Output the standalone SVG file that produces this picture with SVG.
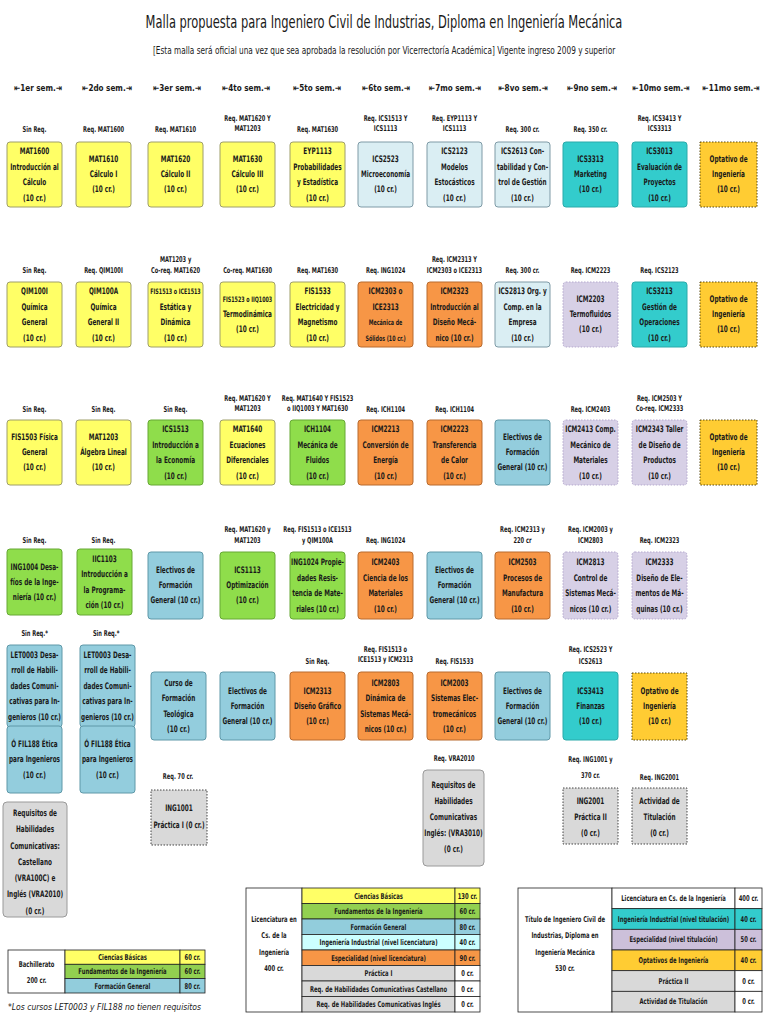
<svg xmlns="http://www.w3.org/2000/svg" width="768" height="1024" viewBox="0 0 768 1024">
<style>
text{font-family:"DejaVu Sans Condensed","Liberation Sans Narrow","Liberation Sans",sans-serif;fill:#1a1a1a}
.r,.t,.c,.ti,.st,.sem{text-anchor:middle;transform-box:fill-box;transform-origin:center}
.ti{font-size:17px;transform:scaleX(0.75)}
.st{font-size:10px;transform:scaleX(0.82)}
.r{font-size:8px;font-weight:bold;transform:scaleX(0.71)}
.t{font-size:9px;font-weight:bold;transform:scaleX(0.71)}
.c{font-size:8px;font-weight:bold;transform:scaleX(0.73)}
.ts{font-size:7.5px}
.sem{font-size:9.5px;font-weight:bold;transform:scaleX(0.85)}
rect{stroke-width:1}
.y{fill:#FFFF66;stroke:#9E9E6A}
.lb{fill:#DAEEF3;stroke:#7E9AA6}
.tq{fill:#33CCCC;stroke:#2AAAAA}
.o{fill:#F79646;stroke:#B86A2E}
.g{fill:#8FDD4B;stroke:#66A834}
.bl{fill:#93CDDD;stroke:#5E98A8}
.lv{fill:#D7D0E6;stroke:#B5A9CE;stroke-dasharray:1.5 1.5}
.op{fill:#FFCC33;stroke:#5A4A10;stroke-dasharray:1.5 1.5}
.gr{fill:#D9D9D9;stroke:#9A9A9A}
.pr{fill:#D9D9D9;stroke:#444;stroke-dasharray:1.5 1.5}
.cell{stroke:#222;stroke-width:0.8}
.w{fill:#FFFFFF}
.cY{fill:#FFFF66}.cG{fill:#92D050}.cB{fill:#92CDDC}.cC{fill:#CCFFFF}.cO{fill:#F79646}.cR{fill:#D9D9D9}.cT{fill:#33CCCC}.cL{fill:#CCC0DA}.cP{fill:#FFCC33}
</style>
<rect width="768" height="1024" fill="#FFFFFF"/>
<g id="header">
<text class="ti" x="384" y="28">Malla propuesta para Ingeniero Civil de Industrias, Diploma en Ingeniería Mecánica</text>
<text class="st" x="384" y="54">[Esta malla será oficial una vez que sea aprobada la resolución por Vicerrectoría Académica] Vigente ingreso 2009 y superior</text>
<text class="sem" x="38" y="91">⇤1er sem.⇥</text>
<text class="sem" x="107" y="91">⇤2do sem.⇥</text>
<text class="sem" x="177" y="91">⇤3er sem.⇥</text>
<text class="sem" x="246" y="91">⇤4to sem.⇥</text>
<text class="sem" x="317" y="91">⇤5to sem.⇥</text>
<text class="sem" x="386" y="91">⇤6to sem.⇥</text>
<text class="sem" x="455" y="91">⇤7mo sem.⇥</text>
<text class="sem" x="523" y="91">⇤8vo sem.⇥</text>
<text class="sem" x="592" y="91">⇤9no sem.⇥</text>
<text class="sem" x="661" y="91">⇤10mo sem.⇥</text>
<text class="sem" x="731" y="91">⇤11mo sem.⇥</text>
</g>
<g id="connectors"></g>

<!-- Row 1 -->
<g id="MAT1600"><text class="r" x="34.5" y="132">Sin Req.</text><rect class="y" x="7" y="142" width="55" height="65" rx="3"/><text class="t" x="34.5" y="154.3">MAT1600<tspan x="34.5" dy="15.5">Introducción al</tspan><tspan x="34.5" dy="15.5">Cálculo</tspan><tspan x="34.5" dy="15.5">(10 cr.)</tspan></text></g>
<g id="MAT1610"><text class="r" x="103.5" y="132">Req. MAT1600</text><rect class="y" x="76" y="142" width="55" height="65" rx="3"/><text class="t" x="103.5" y="162.5">MAT1610<tspan x="103.5" dy="15">Cálculo I</tspan><tspan x="103.5" dy="15">(10 cr.)</tspan></text></g>
<g id="MAT1620"><text class="r" x="175.5" y="132">Req. MAT1610</text><rect class="y" x="148" y="142" width="55" height="65" rx="3"/><text class="t" x="175.5" y="162.5">MAT1620<tspan x="175.5" dy="15">Cálculo II</tspan><tspan x="175.5" dy="15">(10 cr.)</tspan></text></g>
<g id="MAT1630"><text class="r" x="247.5" y="121">Req. MAT1620 Y<tspan x="247.5" dy="10">MAT1203</tspan></text><rect class="y" x="220" y="142" width="55" height="65" rx="3"/><text class="t" x="247.5" y="162.5">MAT1630<tspan x="247.5" dy="15">Cálculo III</tspan><tspan x="247.5" dy="15">(10 cr.)</tspan></text></g>
<g id="EYP1113"><text class="r" x="317.5" y="132">Req. MAT1630</text><rect class="y" x="290" y="142" width="55" height="65" rx="3"/><text class="t" x="317.5" y="154.3">EYP1113<tspan x="317.5" dy="15.5">Probabilidades</tspan><tspan x="317.5" dy="15.5">y Estadística</tspan><tspan x="317.5" dy="15.5">(10 cr.)</tspan></text></g>
<g id="ICS2523"><text class="r" x="385.5" y="121">Req. ICS1513 Y<tspan x="385.5" dy="10">ICS1113</tspan></text><rect class="lb" x="358" y="142" width="55" height="65" rx="3"/><text class="t" x="385.5" y="162.5">ICS2523<tspan x="385.5" dy="15">Microeconomía</tspan><tspan x="385.5" dy="15">(10 cr.)</tspan></text></g>
<g id="ICS2123"><text class="r" x="454.5" y="121">Req. EYP1113 Y<tspan x="454.5" dy="10">ICS1113</tspan></text><rect class="lb" x="427" y="142" width="55" height="65" rx="3"/><text class="t" x="454.5" y="154.3">ICS2123<tspan x="454.5" dy="15.5">Modelos</tspan><tspan x="454.5" dy="15.5">Estocásticos</tspan><tspan x="454.5" dy="15.5">(10 cr.)</tspan></text></g>
<g id="ICS2613"><text class="r" x="522.5" y="132">Req. 300 cr.</text><rect class="lb" x="495" y="142" width="55" height="65" rx="3"/><text class="t" x="522.5" y="154.3">ICS2613 Con-<tspan x="522.5" dy="15.5">tabilidad y Con-</tspan><tspan x="522.5" dy="15.5">trol de Gestión</tspan><tspan x="522.5" dy="15.5">(10 cr.)</tspan></text></g>
<g id="ICS3313"><text class="r" x="590.5" y="132">Req. 350 cr.</text><rect class="tq" x="563" y="142" width="55" height="65" rx="3"/><text class="t" x="590.5" y="162.5">ICS3313<tspan x="590.5" dy="15">Marketing</tspan><tspan x="590.5" dy="15">(10 cr.)</tspan></text></g>
<g id="ICS3013"><text class="r" x="659.5" y="121">Req. ICS3413 Y<tspan x="659.5" dy="10">ICS3313</tspan></text><rect class="tq" x="632" y="142" width="55" height="65" rx="3"/><text class="t" x="659.5" y="154.3">ICS3013<tspan x="659.5" dy="15.5">Evaluación de</tspan><tspan x="659.5" dy="15.5">Proyectos</tspan><tspan x="659.5" dy="15.5">(10 cr.)</tspan></text></g>
<g id="OPT1"><rect class="op" x="700" y="142" width="57" height="65"/><text class="t" x="728.5" y="162.5">Optativo de<tspan x="728.5" dy="15">Ingeniería</tspan><tspan x="728.5" dy="15">(10 cr.)</tspan></text></g>

<!-- Row 2 -->
<g id="QIM100I"><text class="r" x="34.5" y="273">Sin Req.</text><rect class="y" x="7" y="282" width="55" height="65" rx="3"/><text class="t" x="34.5" y="294.3">QIM100I<tspan x="34.5" dy="15.5">Química</tspan><tspan x="34.5" dy="15.5">General</tspan><tspan x="34.5" dy="15.5">(10 cr.)</tspan></text></g>
<g id="QIM100A"><text class="r" x="103.5" y="273">Req. QIM100I</text><rect class="y" x="76" y="282" width="55" height="65" rx="3"/><text class="t" x="103.5" y="294.3">QIM100A<tspan x="103.5" dy="15.5">Química</tspan><tspan x="103.5" dy="15.5">General II</tspan><tspan x="103.5" dy="15.5">(10 cr.)</tspan></text></g>
<g id="FIS1513"><text class="r" x="175.5" y="262">MAT1203 y<tspan x="175.5" dy="11">Co-req. MAT1620</tspan></text><rect class="y" x="148" y="282" width="55" height="65" rx="3"/><text class="t" x="175.5" y="294.3"><tspan class="ts">FIS1513 o ICE1513</tspan><tspan x="175.5" dy="15.5">Estática y</tspan><tspan x="175.5" dy="15.5">Dinámica</tspan><tspan x="175.5" dy="15.5">(10 cr.)</tspan></text></g>
<g id="FIS1523"><text class="r" x="247.5" y="273">Co-req. MAT1630</text><rect class="y" x="220" y="282" width="55" height="65" rx="3"/><text class="t" x="247.5" y="302.5"><tspan class="ts">FIS1523 o IIQ1003</tspan><tspan x="247.5" dy="15">Termodinámica</tspan><tspan x="247.5" dy="15">(10 cr.)</tspan></text></g>
<g id="FIS1533"><text class="r" x="317.5" y="273">Req. MAT1630</text><rect class="y" x="290" y="282" width="55" height="65" rx="3"/><text class="t" x="317.5" y="294.3">FIS1533<tspan x="317.5" dy="15.5">Electricidad y</tspan><tspan x="317.5" dy="15.5">Magnetismo</tspan><tspan x="317.5" dy="15.5">(10 cr.)</tspan></text></g>
<g id="ICM2303"><text class="r" x="385.5" y="273">Req. ING1024</text><rect class="o" x="358" y="282" width="55" height="65" rx="3"/><text class="t" x="385.5" y="294.3">ICM2303 o<tspan x="385.5" dy="15.5">ICE2313</tspan><tspan class="ts" x="385.5" dy="15.5">Mecánica de</tspan><tspan class="ts" x="385.5" dy="15.5">Sólidos (10 cr.)</tspan></text></g>
<g id="ICM2323"><text class="r" x="454.5" y="262">Req. ICM2313 Y<tspan x="454.5" dy="11">ICM2303 o ICE2313</tspan></text><rect class="o" x="427" y="282" width="55" height="65" rx="3"/><text class="t" x="454.5" y="294.3">ICM2323<tspan x="454.5" dy="15.5">Introducción al</tspan><tspan x="454.5" dy="15.5">Diseño Mecá-</tspan><tspan x="454.5" dy="15.5">nico (10 cr.)</tspan></text></g>
<g id="ICS2813"><text class="r" x="522.5" y="273">Req. 300 cr.</text><rect class="lb" x="495" y="282" width="55" height="65" rx="3"/><text class="t" x="522.5" y="294.3">ICS2813 Org. y<tspan x="522.5" dy="15.5">Comp. en la</tspan><tspan x="522.5" dy="15.5">Empresa</tspan><tspan x="522.5" dy="15.5">(10 cr.)</tspan></text></g>
<g id="ICM2203"><text class="r" x="590.5" y="273">Req. ICM2223</text><rect class="lv" x="563" y="282" width="55" height="65" rx="3"/><text class="t" x="590.5" y="302.5">ICM2203<tspan x="590.5" dy="15">Termofluidos</tspan><tspan x="590.5" dy="15">(10 cr.)</tspan></text></g>
<g id="ICS3213"><text class="r" x="659.5" y="273">Req. ICS2123</text><rect class="tq" x="632" y="282" width="55" height="65" rx="3"/><text class="t" x="659.5" y="294.3">ICS3213<tspan x="659.5" dy="15.5">Gestión de</tspan><tspan x="659.5" dy="15.5">Operaciones</tspan><tspan x="659.5" dy="15.5">(10 cr.)</tspan></text></g>
<g id="OPT2"><rect class="op" x="700" y="282" width="57" height="65"/><text class="t" x="728.5" y="302.5">Optativo de<tspan x="728.5" dy="15">Ingeniería</tspan><tspan x="728.5" dy="15">(10 cr.)</tspan></text></g>

<!-- Row 3 -->
<g id="FIS1503"><text class="r" x="34.5" y="412">Sin Req.</text><rect class="y" x="7" y="420" width="55" height="65" rx="3"/><text class="t" x="34.5" y="440.5">FIS1503 Física<tspan x="34.5" dy="15">General</tspan><tspan x="34.5" dy="15">(10 cr.)</tspan></text></g>
<g id="MAT1203"><text class="r" x="103.5" y="412">Sin Req.</text><rect class="y" x="76" y="420" width="55" height="65" rx="3"/><text class="t" x="103.5" y="440.5">MAT1203<tspan x="103.5" dy="15">Álgebra Lineal</tspan><tspan x="103.5" dy="15">(10 cr.)</tspan></text></g>
<g id="ICS1513"><text class="r" x="175.5" y="412">Sin Req.</text><rect class="g" x="148" y="420" width="55" height="65" rx="3"/><text class="t" x="175.5" y="432.3">ICS1513<tspan x="175.5" dy="15.5">Introducción a</tspan><tspan x="175.5" dy="15.5">la Economía</tspan><tspan x="175.5" dy="15.5">(10 cr.)</tspan></text></g>
<g id="MAT1640"><text class="r" x="247.5" y="401">Req. MAT1620 Y<tspan x="247.5" dy="10">MAT1203</tspan></text><rect class="y" x="220" y="420" width="55" height="65" rx="3"/><text class="t" x="247.5" y="432.3">MAT1640<tspan x="247.5" dy="15.5">Ecuaciones</tspan><tspan x="247.5" dy="15.5">Diferenciales</tspan><tspan x="247.5" dy="15.5">(10 cr.)</tspan></text></g>
<g id="ICH1104"><text class="r" x="317.5" y="401">Req. MAT1640 Y FIS1523<tspan x="317.5" dy="10">o IIQ1003 Y MAT1630</tspan></text><rect class="g" x="290" y="420" width="55" height="65" rx="3"/><text class="t" x="317.5" y="432.3">ICH1104<tspan x="317.5" dy="15.5">Mecánica de</tspan><tspan x="317.5" dy="15.5">Fluidos</tspan><tspan x="317.5" dy="15.5">(10 cr.)</tspan></text></g>
<g id="ICM2213"><text class="r" x="385.5" y="412">Req. ICH1104</text><rect class="o" x="358" y="420" width="55" height="65" rx="3"/><text class="t" x="385.5" y="432.3">ICM2213<tspan x="385.5" dy="15.5">Conversión de</tspan><tspan x="385.5" dy="15.5">Energía</tspan><tspan x="385.5" dy="15.5">(10 cr.)</tspan></text></g>
<g id="ICM2223"><text class="r" x="454.5" y="412">Req. ICH1104</text><rect class="o" x="427" y="420" width="55" height="65" rx="3"/><text class="t" x="454.5" y="432.3">ICM2223<tspan x="454.5" dy="15.5">Transferencia</tspan><tspan x="454.5" dy="15.5">de Calor</tspan><tspan x="454.5" dy="15.5">(10 cr.)</tspan></text></g>
<g id="EFG-8"><rect class="bl" x="495" y="420" width="55" height="65" rx="3"/><text class="t" x="522.5" y="440.5">Electivos de<tspan x="522.5" dy="15">Formación</tspan><tspan x="522.5" dy="15">General (10 cr.)</tspan></text></g>
<g id="ICM2413"><text class="r" x="590.5" y="412">Req. ICM2403</text><rect class="lv" x="563" y="420" width="55" height="65" rx="3"/><text class="t" x="590.5" y="432.3">ICM2413 Comp.<tspan x="590.5" dy="15.5">Mecánico de</tspan><tspan x="590.5" dy="15.5">Materiales</tspan><tspan x="590.5" dy="15.5">(10 cr.)</tspan></text></g>
<g id="ICM2343"><text class="r" x="659.5" y="401">Req. ICM2503 Y<tspan x="659.5" dy="10">Co-req. ICM2333</tspan></text><rect class="lv" x="632" y="420" width="55" height="65" rx="3"/><text class="t" x="659.5" y="432.3">ICM2343 Taller<tspan x="659.5" dy="15.5">de Diseño de</tspan><tspan x="659.5" dy="15.5">Productos</tspan><tspan x="659.5" dy="15.5">(10 cr.)</tspan></text></g>
<g id="OPT3"><rect class="op" x="700" y="420" width="57" height="65"/><text class="t" x="728.5" y="440.5">Optativo de<tspan x="728.5" dy="15">Ingeniería</tspan><tspan x="728.5" dy="15">(10 cr.)</tspan></text></g>

<!-- Row 4 -->
<g id="ING1004"><text class="r" x="34.5" y="543">Sin Req.</text><rect class="g" x="7" y="549" width="55" height="66" rx="3"/><text class="t" x="34.5" y="570">ING1004 Desa-<tspan x="34.5" dy="15">fíos de la Inge-</tspan><tspan x="34.5" dy="15">niería (10 cr.)</tspan></text></g>
<g id="IIC1103"><text class="r" x="103.5" y="543">Sin Req.</text><rect class="g" x="77" y="549" width="55" height="66" rx="3"/><text class="t" x="104.5" y="561.8">IIC1103<tspan x="104.5" dy="15.5">Introducción a</tspan><tspan x="104.5" dy="15.5">la Programa-</tspan><tspan x="104.5" dy="15.5">ción (10 cr.)</tspan></text></g>
<g id="EFG-3a"><rect class="bl" x="148" y="552" width="55" height="67" rx="3"/><text class="t" x="175.5" y="573.5">Electivos de<tspan x="175.5" dy="15">Formación</tspan><tspan x="175.5" dy="15">General (10 cr.)</tspan></text></g>
<g id="ICS1113"><text class="r" x="247.5" y="532">Req. MAT1620 y<tspan x="247.5" dy="11">MAT1203</tspan></text><rect class="g" x="220" y="552" width="55" height="67" rx="3"/><text class="t" x="247.5" y="573.5">ICS1113<tspan x="247.5" dy="15">Optimización</tspan><tspan x="247.5" dy="15">(10 cr.)</tspan></text></g>
<g id="ING1024"><text class="r" x="317.5" y="532">Req. FIS1513 o ICE1513<tspan x="317.5" dy="11">y QIM100A</tspan></text><rect class="g" x="290" y="552" width="55" height="67" rx="3"/><text class="t" x="317.5" y="565.3">ING1024 Propie-<tspan x="317.5" dy="15.5">dades Resis-</tspan><tspan x="317.5" dy="15.5">tencia de Mate-</tspan><tspan x="317.5" dy="15.5">riales (10 cr.)</tspan></text></g>
<g id="ICM2403"><text class="r" x="385.5" y="543">Req. ING1024</text><rect class="o" x="358" y="552" width="55" height="67" rx="3"/><text class="t" x="385.5" y="565.3">ICM2403<tspan x="385.5" dy="15.5">Ciencia de los</tspan><tspan x="385.5" dy="15.5">Materiales</tspan><tspan x="385.5" dy="15.5">(10 cr.)</tspan></text></g>
<g id="EFG-7"><rect class="bl" x="427" y="552" width="55" height="67" rx="3"/><text class="t" x="454.5" y="573.5">Electivos de<tspan x="454.5" dy="15">Formación</tspan><tspan x="454.5" dy="15">General (10 cr.)</tspan></text></g>
<g id="ICM2503"><text class="r" x="522.5" y="532">Req. ICM2313 y<tspan x="522.5" dy="11">220 cr</tspan></text><rect class="o" x="495" y="552" width="55" height="67" rx="3"/><text class="t" x="522.5" y="565.3">ICM2503<tspan x="522.5" dy="15.5">Procesos de</tspan><tspan x="522.5" dy="15.5">Manufactura</tspan><tspan x="522.5" dy="15.5">(10 cr.)</tspan></text></g>
<g id="ICM2813"><text class="r" x="590.5" y="532">Req. ICM2003  y<tspan x="590.5" dy="11">ICM2803</tspan></text><rect class="lv" x="563" y="552" width="55" height="67" rx="3"/><text class="t" x="590.5" y="565.3">ICM2813<tspan x="590.5" dy="15.5">Control de</tspan><tspan x="590.5" dy="15.5">Sistemas Mecá-</tspan><tspan x="590.5" dy="15.5">nicos  (10 cr.)</tspan></text></g>
<g id="ICM2333"><text class="r" x="659.5" y="543">Req. ICM2323</text><rect class="lv" x="632" y="552" width="55" height="67" rx="3"/><text class="t" x="659.5" y="565.3">ICM2333<tspan x="659.5" dy="15.5">Diseño de Ele-</tspan><tspan x="659.5" dy="15.5">mentos de Má-</tspan><tspan x="659.5" dy="15.5">quinas (10 cr.)</tspan></text></g>

<!-- Row 5 -->
<g id="LET0003-a"><text class="r" x="34.5" y="636">Sin Req.*</text><rect class="bl" x="7" y="645" width="55" height="82" rx="3"/><text class="t" x="34.5" y="658">LET0003 Desa-<tspan x="34.5" dy="15.5">rroll de Habili-</tspan><tspan x="34.5" dy="15.5">dades Comuni-</tspan><tspan x="34.5" dy="15.5">cativas para In-</tspan><tspan x="34.5" dy="15.5">genieros (10 cr.)</tspan></text></g>
<g id="FIL188-a"><rect class="bl" x="7" y="726" width="55" height="67" rx="3"/><text class="t" x="34.5" y="747">Ó FIL188 Ética<tspan x="34.5" dy="15.5">para Ingenieros</tspan><tspan x="34.5" dy="15.5">(10 cr.)</tspan></text></g>
<g id="LET0003-b"><text class="r" x="106" y="636">Sin Req.*</text><rect class="bl" x="80" y="645" width="55" height="82" rx="3"/><text class="t" x="107.5" y="658">LET0003 Desa-<tspan x="107.5" dy="15.5">rroll de Habili-</tspan><tspan x="107.5" dy="15.5">dades Comuni-</tspan><tspan x="107.5" dy="15.5">cativas para In-</tspan><tspan x="107.5" dy="15.5">genieros (10 cr.)</tspan></text></g>
<g id="FIL188-b"><rect class="bl" x="80" y="726" width="55" height="67" rx="3"/><text class="t" x="107.5" y="747">Ó FIL188 Ética<tspan x="107.5" dy="15.5">para Ingenieros</tspan><tspan x="107.5" dy="15.5">(10 cr.)</tspan></text></g>
<g id="TEOL"><rect class="bl" x="151" y="672" width="55" height="68" rx="3"/><text class="t" x="178.5" y="685.8">Curso de<tspan x="178.5" dy="15.5">Formación</tspan><tspan x="178.5" dy="15.5">Teológica</tspan><tspan x="178.5" dy="15.5">(10 cr.)</tspan></text></g>
<g id="EFG-4"><rect class="bl" x="220" y="672" width="55" height="68" rx="3"/><text class="t" x="247.5" y="694">Electivos de<tspan x="247.5" dy="15">Formación</tspan><tspan x="247.5" dy="15">General (10 cr.)</tspan></text></g>
<g id="ICM2313"><text class="r" x="317.5" y="664">Sin Req.</text><rect class="o" x="290" y="672" width="55" height="68" rx="3"/><text class="t" x="317.5" y="694">ICM2313<tspan x="317.5" dy="15">Diseño Gráfico</tspan><tspan x="317.5" dy="15">(10 cr.)</tspan></text></g>
<g id="ICM2803"><text class="r" x="385.5" y="652">Req. FIS1513 o<tspan x="385.5" dy="10">ICE1513 y ICM2313</tspan></text><rect class="o" x="358" y="672" width="55" height="68" rx="3"/><text class="t" x="385.5" y="685.8">ICM2803<tspan x="385.5" dy="15.5">Dinámica de</tspan><tspan x="385.5" dy="15.5">Sistemas Mecá-</tspan><tspan x="385.5" dy="15.5">nicos (10 cr.)</tspan></text></g>
<g id="ICM2003"><text class="r" x="454.5" y="664">Req. FIS1533</text><rect class="o" x="427" y="672" width="55" height="68" rx="3"/><text class="t" x="454.5" y="685.8">ICM2003<tspan x="454.5" dy="15.5">Sistemas Elec-</tspan><tspan x="454.5" dy="15.5">tromecánicos</tspan><tspan x="454.5" dy="15.5">(10 cr.)</tspan></text></g>
<g id="EFG-8b"><rect class="bl" x="495" y="672" width="55" height="68" rx="3"/><text class="t" x="522.5" y="694">Electivos de<tspan x="522.5" dy="15">Formación</tspan><tspan x="522.5" dy="15">General (10 cr.)</tspan></text></g>
<g id="ICS3413"><text class="r" x="590.5" y="652">Req. ICS2523 Y<tspan x="590.5" dy="12">ICS2613</tspan></text><rect class="tq" x="563" y="672" width="55" height="68" rx="3"/><text class="t" x="590.5" y="694">ICS3413<tspan x="590.5" dy="15">Finanzas</tspan><tspan x="590.5" dy="15">(10 cr.)</tspan></text></g>
<g id="OPT5"><rect class="op" x="632" y="673" width="55" height="67"/><text class="t" x="659.5" y="694">Optativo de<tspan x="659.5" dy="15">Ingeniería</tspan><tspan x="659.5" dy="15">(10 cr.)</tspan></text></g>

<!-- Row 6 -->
<g id="REQ-CAST"><rect class="gr" x="3" y="802" width="64" height="115" rx="4"/><text class="t" x="35" y="816">Requisitos de<tspan x="35" dy="16.3">Habilidades</tspan><tspan x="35" dy="16.3">Comunicativas:</tspan><tspan x="35" dy="16.3">Castellano</tspan><tspan x="35" dy="16.3">(VRA100C)  e</tspan><tspan x="35" dy="16.3">Inglés (VRA2010)</tspan><tspan x="35" dy="16.3">(0 cr.)</tspan></text></g>
<g id="ING1001"><text class="r" x="178" y="779">Req. 70 cr.</text><rect class="pr" x="151" y="790" width="56" height="55"/><text class="t" x="179" y="811">ING1001<tspan x="179" dy="17">Práctica I (0 cr.)</tspan></text></g>
<g id="REQ-ING"><text class="r" x="454" y="761">Req. VRA2010</text><rect class="gr" x="423" y="770" width="61" height="96" rx="4"/><text class="t" x="453.5" y="788">Requisitos de<tspan x="453.5" dy="16">Habilidades</tspan><tspan x="453.5" dy="16">Comunicativas</tspan><tspan x="453.5" dy="16">Inglés: (VRA3010)</tspan><tspan x="453.5" dy="16">(0 cr.)</tspan></text></g>
<g id="ING2001"><text class="r" x="590.5" y="762">Req. ING1001 y<tspan x="590.5" dy="16">370 cr.</tspan></text><rect class="pr" x="563" y="788" width="55" height="56"/><text class="t" x="590.5" y="804">ING2001<tspan x="590.5" dy="16">Práctica II</tspan><tspan x="590.5" dy="16">(0 cr.)</tspan></text></g>
<g id="TITULACION"><text class="r" x="659.5" y="780">Req. ING2001</text><rect class="pr" x="632" y="788" width="55" height="56"/><text class="t" x="659.5" y="804">Actividad de<tspan x="659.5" dy="16">Titulación</tspan><tspan x="659.5" dy="16">(0 cr.)</tspan></text></g>

<!-- Tables -->
<g id="table-bachillerato">
<rect class="cell w" x="8" y="950" width="57" height="43"/>
<text class="c" x="36.5" y="967">Bachillerato<tspan x="36.5" dy="16">200 cr.</tspan></text>
<rect class="cell cY" x="65" y="950" width="115" height="14.3"/><rect class="cell cY" x="180" y="950" width="25" height="14.3"/>
<rect class="cell cG" x="65" y="964.3" width="115" height="14.3"/><rect class="cell cG" x="180" y="964.3" width="25" height="14.3"/>
<rect class="cell cB" x="65" y="978.6" width="115" height="14.4"/><rect class="cell cB" x="180" y="978.6" width="25" height="14.4"/>
<text class="c" x="122.5" y="960">Ciencias Básicas</text><text class="c" x="192.5" y="960">60 cr.</text>
<text class="c" x="122.5" y="974.5">Fundamentos de la Ingeniería</text><text class="c" x="192.5" y="974.5">60 cr.</text>
<text class="c" x="122.5" y="989">Formación General</text><text class="c" x="192.5" y="989">80 cr.</text>
</g>
<text x="8" y="1010" font-size="8.5" font-style="italic" fill="#222">*Los cursos LET0003 y FIL188 no tienen requisitos</text>

<g id="table-licenciatura">
<rect class="cell w" x="246" y="888" width="56" height="124"/>
<text class="c" x="274" y="922">Licenciatura en<tspan x="274" dy="16.5">Cs. de la</tspan><tspan x="274" dy="16.5">Ingeniería</tspan><tspan x="274" dy="16.5">400 cr.</tspan></text>
<rect class="cell cY" x="302" y="888" width="153" height="15.5"/><rect class="cell cY" x="455" y="888" width="25" height="15.5"/>
<rect class="cell cG" x="302" y="903.5" width="153" height="15.5"/><rect class="cell cG" x="455" y="903.5" width="25" height="15.5"/>
<rect class="cell cB" x="302" y="919" width="153" height="15.5"/><rect class="cell cB" x="455" y="919" width="25" height="15.5"/>
<rect class="cell cC" x="302" y="934.5" width="153" height="15.5"/><rect class="cell cC" x="455" y="934.5" width="25" height="15.5"/>
<rect class="cell cO" x="302" y="950" width="153" height="15.5"/><rect class="cell cO" x="455" y="950" width="25" height="15.5"/>
<rect class="cell cR" x="302" y="965.5" width="153" height="15.5"/><rect class="cell w" x="455" y="965.5" width="25" height="15.5"/>
<rect class="cell cR" x="302" y="981" width="153" height="15.5"/><rect class="cell w" x="455" y="981" width="25" height="15.5"/>
<rect class="cell cR" x="302" y="996.5" width="153" height="15.5"/><rect class="cell w" x="455" y="996.5" width="25" height="15.5"/>
<text class="c" x="378.5" y="898.7">Ciencias Básicas</text><text class="c" x="467.5" y="898.7">130 cr.</text>
<text class="c" x="378.5" y="914.2">Fundamentos de la Ingeniería</text><text class="c" x="467.5" y="914.2">60 cr.</text>
<text class="c" x="378.5" y="929.7">Formación General</text><text class="c" x="467.5" y="929.7">80 cr.</text>
<text class="c" x="378.5" y="945.2">Ingeniería Industrial (nivel licenciatura)</text><text class="c" x="467.5" y="945.2">40 cr.</text>
<text class="c" x="378.5" y="960.7">Especialidad (nivel licenciatura)</text><text class="c" x="467.5" y="960.7">90 cr.</text>
<text class="c" x="378.5" y="976.2">Práctica I</text><text class="c" x="467.5" y="976.2">0 cr.</text>
<text class="c" x="378.5" y="991.7">Req. de Habilidades Comunicativas Castellano</text><text class="c" x="467.5" y="991.7">0 cr.</text>
<text class="c" x="378.5" y="1007.2">Req. de Habilidades Comunicativas Inglés</text><text class="c" x="467.5" y="1007.2">0 cr.</text>
</g>

<g id="table-titulo">
<rect class="cell w" x="518" y="888" width="94" height="124"/>
<text class="c" x="565" y="922">Título de Ingeniero Civil de<tspan x="565" dy="16.5">Industrias, Diploma en</tspan><tspan x="565" dy="16.5">Ingeniería Mecánica</tspan><tspan x="565" dy="16.5">530 cr.</tspan></text>
<rect class="cell w" x="612" y="888" width="123" height="20.67"/><rect class="cell w" x="735" y="888" width="27" height="20.67"/>
<rect class="cell cT" x="612" y="908.67" width="123" height="20.67"/><rect class="cell cT" x="735" y="908.67" width="27" height="20.67"/>
<rect class="cell cL" x="612" y="929.33" width="123" height="20.67"/><rect class="cell cL" x="735" y="929.33" width="27" height="20.67"/>
<rect class="cell cP" x="612" y="950" width="123" height="20.67"/><rect class="cell cP" x="735" y="950" width="27" height="20.67"/>
<rect class="cell cR" x="612" y="970.67" width="123" height="20.67"/><rect class="cell w" x="735" y="970.67" width="27" height="20.67"/>
<rect class="cell cR" x="612" y="991.33" width="123" height="20.67"/><rect class="cell w" x="735" y="991.33" width="27" height="20.67"/>
<text class="c" x="673.5" y="901">Licenciatura en Cs. de la Ingeniería</text><text class="c" x="748.5" y="901">400 cr.</text>
<text class="c" x="673.5" y="921.7">Ingeniería Industrial (nivel titulación)</text><text class="c" x="748.5" y="921.7">40 cr.</text>
<text class="c" x="673.5" y="942.3">Especialidad (nivel titulación)</text><text class="c" x="748.5" y="942.3">50 cr.</text>
<text class="c" x="673.5" y="963">Optativos de Ingeniería</text><text class="c" x="748.5" y="963">40 cr.</text>
<text class="c" x="673.5" y="983.7">Práctica II</text><text class="c" x="748.5" y="983.7">0 cr.</text>
<text class="c" x="673.5" y="1004.3">Actividad de Titulación</text><text class="c" x="748.5" y="1004.3">0 cr.</text>
</g>
</svg>
